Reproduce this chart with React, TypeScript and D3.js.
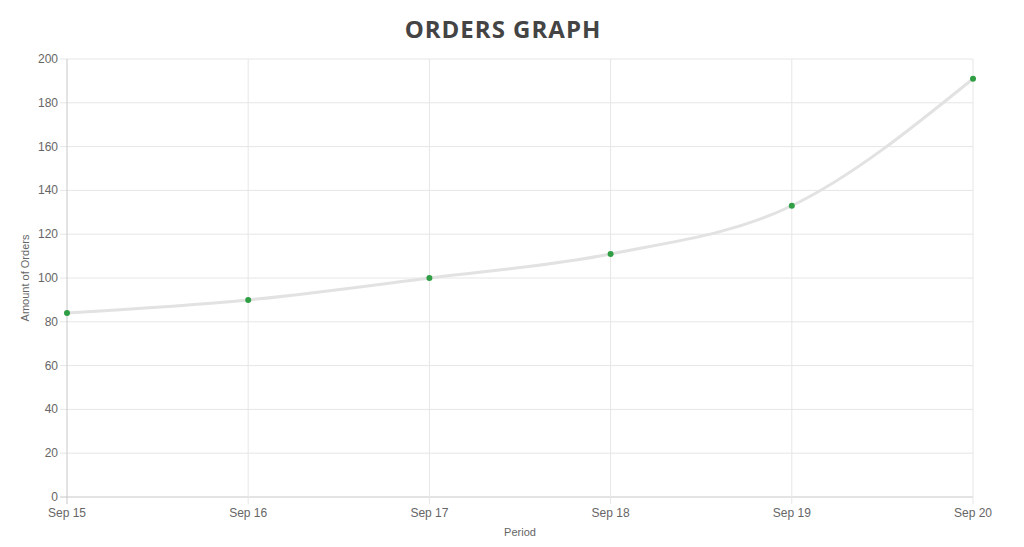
import { useEffect, useRef } from "react";
import * as d3 from "d3";

const days = ["Sep 15", "Sep 16", "Sep 17", "Sep 18", "Sep 19", "Sep 20"];
const orders = [84, 90, 100, 111, 133, 191];
const yTicks = [0, 20, 40, 60, 80, 100, 120, 140, 160, 180, 200];

const W = 1024;
const H = 547;

export default function App() {
  const ref = useRef<SVGSVGElement | null>(null);

  useEffect(() => {
    if (!ref.current) return;
    const svg = d3.select(ref.current);
    svg.selectAll("*").remove();

    const m = { top: 59, right: 51, bottom: 50, left: 67 };
    const innerW = W - m.left - m.right;
    const innerH = H - m.top - m.bottom;

    const x = d3.scalePoint<string>().domain(days).range([0, innerW]);
    const y = d3.scaleLinear().domain([0, 200]).range([innerH, 0]);

    svg.append("rect").attr("width", W).attr("height", H).attr("fill", "#fff");

    svg.append("text")
      .attr("x", 503).attr("y", 38)
      .attr("text-anchor", "middle")
      .attr("font-family", "'Open Sans', sans-serif")
      .attr("font-weight", 700)
      .attr("font-size", 24)
      .attr("fill", "#444")
      .attr("letter-spacing", 1)
      .text("ORDERS GRAPH");

    const g = svg.append("g").attr("transform", `translate(${m.left},${m.top})`);

    // grid
    g.append("g")
      .selectAll("line")
      .data(yTicks)
      .join("line")
      .attr("x1", -7).attr("x2", innerW)
      .attr("y1", (d) => y(d)).attr("y2", (d) => y(d))
      .attr("stroke", (d) => (d === 0 ? "#c8c8c8" : "#e6e6e6"))
      .attr("stroke-width", 1);

    g.append("g")
      .selectAll("line")
      .data(days)
      .join("line")
      .attr("x1", (d) => x(d)!).attr("x2", (d) => x(d)!)
      .attr("y1", 0).attr("y2", innerH + 7)
      .attr("stroke", (d, i) => (i === 0 ? "#c8c8c8" : "#e6e6e6"))
      .attr("stroke-width", 1);

    // tick labels
    g.append("g")
      .selectAll("text")
      .data(yTicks)
      .join("text")
      .attr("x", -9).attr("y", (d) => y(d) + 4)
      .attr("text-anchor", "end")
      .attr("font-family", "'Liberation Sans', Arial, sans-serif")
      .attr("font-size", 12)
      .attr("fill", "#666")
      .text((d) => d);

    g.append("g")
      .selectAll("text")
      .data(days)
      .join("text")
      .attr("x", (d) => x(d)!).attr("y", innerH + 20)
      .attr("text-anchor", "middle")
      .attr("font-family", "'Liberation Sans', Arial, sans-serif")
      .attr("font-size", 12)
      .attr("fill", "#666")
      .text((d) => d);

    // axis titles
    svg.append("text")
      .attr("transform", `translate(29,${m.top + innerH / 2}) rotate(-90)`)
      .attr("text-anchor", "middle")
      .attr("font-family", "'Liberation Sans', Arial, sans-serif")
      .attr("font-size", 11)
      .attr("fill", "#666")
      .text("Amount of Orders");

    svg.append("text")
      .attr("x", m.left + innerW / 2).attr("y", 536)
      .attr("text-anchor", "middle")
      .attr("font-family", "'Liberation Sans', Arial, sans-serif")
      .attr("font-size", 11)
      .attr("fill", "#666")
      .text("Period");

    const data = days.map((d, i) => ({ day: d, v: orders[i] }));
    const line = d3.line<(typeof data)[number]>()
      .x((d) => x(d.day)!)
      .y((d) => y(d.v))
      .curve(d3.curveMonotoneX);

    g.append("path").datum(data).attr("d", line)
      .attr("fill", "none")
      .attr("stroke", "#e2e2e2")
      .attr("stroke-width", 3);

    g.append("g")
      .selectAll("circle")
      .data(data)
      .join("circle")
      .attr("cx", (d) => x(d.day)!)
      .attr("cy", (d) => y(d.v))
      .attr("r", 3)
      .attr("fill", "#2f9e44");
  }, []);

  return (
    <svg
      ref={ref}
      width={W}
      height={H}
      style={{ position: "absolute", left: 0, top: 0, display: "block" }}
    />
  );
}
